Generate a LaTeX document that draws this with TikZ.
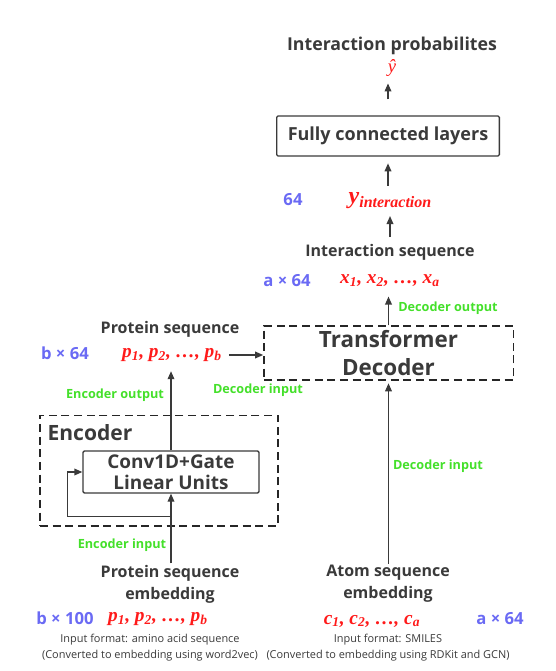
\documentclass[tikz,border=0pt]{standalone}
\usepackage{amsmath}
\usepackage[no-math]{fontspec}
\setmainfont{Open Sans}
\newfontfamily\symfont{Liberation Serif}
\usetikzlibrary{positioning,arrows.meta,calc}
\definecolor{ink}{HTML}{3A3A3A}
\definecolor{dimblue}{HTML}{6A6AF4}
\definecolor{flowgreen}{HTML}{44E02A}
\definecolor{seqred}{HTML}{FF1A1A}
\newcommand{\seqv}[2]{#1\textsubscript{1}, #1\textsubscript{2}, …, #1\textsubscript{#2}}
\tikzset{
  ttl/.style ={font=\bfseries\fontsize{12}{16.5}\selectfont, text=ink, align=center, inner sep=1pt},
  dimlab/.style={font=\bfseries\fontsize{12.5}{14}\selectfont, text=dimblue, inner sep=1pt},
  seq/.style ={text=seqred, font=\symfont\bfseries\itshape\fontsize{14.5}{16}\selectfont, inner sep=1pt},
  flow/.style={font=\bfseries\fontsize{9.5}{11}\selectfont, text=flowgreen, inner sep=1pt},
  note/.style={font=\fontsize{8.2}{12}\selectfont, text=ink, align=center, inner sep=1pt},
  blk/.style ={draw=ink, line width=1pt, rounded corners=1pt, align=center, text=ink, inner sep=2pt},
  dbox/.style={draw=black!85, line width=1pt, dash pattern=on 6pt off 3.5pt, align=center, text=ink, inner sep=2pt},
  edge/.style={-{Triangle[length=6pt,width=5pt]}, line width=1pt, draw=ink},
}

\begin{document}
\begin{tikzpicture}[x=0.75pt, y=-0.75pt]
  \useasboundingbox (0,0) rectangle (556,671);
  % output side
  \node[ttl, font=\bfseries\fontsize{13.3}{16}\selectfont] (prob) at (392,46) {Interaction probabilites};
  \node[seq, font=\symfont\itshape\fontsize{14}{16}\selectfont] (yhat) at (392,68) {ŷ};
  \node[blk, minimum width=167pt, minimum height=30pt, font=\bfseries\fontsize{13.5}{16}\selectfont] (fc) at (388,136) {Fully connected layers};
  \node[dimlab] (d64) at (293,200) {64};
  \node[seq, font=\symfont\bfseries\itshape\fontsize{18}{19}\selectfont] (yint) at (390,201) {y\raisebox{-3pt}{\fontsize{12}{13}\selectfont interaction}};
  \node[ttl] (iseq) at (390,252) {Interaction sequence};
  \node[dimlab] (dxa) at (287,281) {a × 64};
  \node[seq] (xseq) at (390,281) {\seqv{x}{a}};
  \node[dbox, minimum width=187pt, minimum height=40.5pt, font=\bfseries\fontsize{16.8}{21}\selectfont] (dec) at (388.5,353) {Transformer\\Decoder};
  % protein side
  \node[ttl] (pseq) at (170,329) {Protein sequence};
  \node[dimlab] (dpb) at (65,353) {b × 64};
  \node[seq] (pvec) at (172,355) {\seqv{p}{b}};
  \node[dbox, minimum width=178.5pt, minimum height=83pt] (enc) at (159,470.5) {};
  \node[anchor=west, font=\bfseries\fontsize{15.8}{18}\selectfont, text=ink, inner sep=1pt] (enct) at (46,433) {Encoder};
  \node[blk, minimum width=132pt, minimum height=31.5pt, font=\bfseries\fontsize{14.2}{16}\selectfont] (conv) at (171,472) {Conv1D+Gate\\Linear Units};
  \node[ttl] (pemb) at (170,584) {Protein sequence\\embedding};
  \node[dimlab] (dpb2) at (65,618) {b × 100};
  \node[seq] (pin) at (158,619) {\seqv{p}{b}};
  \node[note] (pnote) at (150,648) {Input format: amino acid sequence\\(Converted to embedding using word2vec)};
  % atom side
  \node[ttl] (aemb) at (388,584) {Atom sequence\\embedding};
  \node[seq] (cin) at (372,621) {\seqv{c}{a}};
  \node[dimlab] (dca) at (500,619) {a × 64};
  \node[note] (anote) at (388,648) {Input format: SMILES\\(Converted to embedding using RDKit and GCN)};
  % flow labels
  \node[flow] at (448,308) {Decoder output};
  \node[flow] at (258,390) {Decoder input};
  \node[flow] at (115,395) {Encoder output};
  \node[flow] at (122,545) {Encoder input};
  \node[flow] at (438,466) {Decoder input};
  % connectors
  \draw[edge, shorten <=12pt, shorten >=4pt] (fc.north) -- (fc.north |- yhat.south);
  \draw[edge, shorten <=4pt, shorten >=5pt] (fc.south |- yint.north) -- (fc.south);
  \draw[edge, shorten <=4pt, shorten >=4pt] (iseq.north) -- (iseq.north |- yint.south);
  \draw[edge, shorten >=6pt] (dec.north) -- (dec.north |- xseq.south);
  \draw[edge, shorten <=4pt] (pvec.east) -- (pvec.east -| dec.west);
  \draw[edge, shorten >=6pt] (conv.north) -- (conv.north |- pvec.south);
  \draw[edge] (conv.south |- pemb.north) -- (conv.south);
  \coordinate (fb) at ($(conv.south)+(0,23)$);
  \draw[edge] (fb) -| ($(conv.west)+(-15,0)$) -- (conv.west);
  \draw[edge, shorten >=2pt] (dec.south |- aemb.north) -- (dec.south);
\end{tikzpicture}
\end{document}
